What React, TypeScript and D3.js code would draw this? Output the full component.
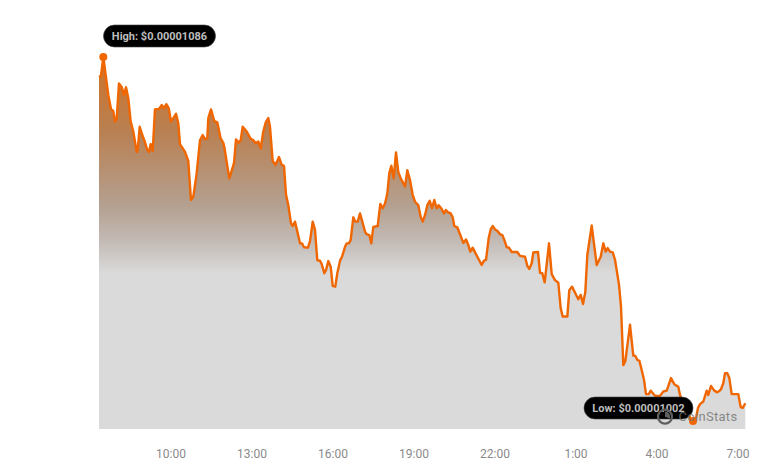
import React from "react";
import * as d3 from "d3";

const minutes = [0,4.4,9.6,14.9,20.7,26.7,31.8,35.6,39.3,44.4,50.4,55.6,60,65.1,70.4,76.2,83.8,86,90.4,96.2,100.7,107.3,111.1,114.9,119.3,124.4,133.3,139.3,144.4,149.6,154.9,160,165.1,171.1,176.2,180,191.1,198.4,204.4,209.6,217.1,224.4,230.4,236.2,240.7,242.9,248.9,256.2,262.9,270.4,276.2,278.4,289.6,300,304.4,310.4,314.9,319.3,328.2,337.1,342.9,348.2,354,359.3,365.1,370.4,376.2,380,386,392.2,400,406,411.1,415.6,420.7,426.7,430.4,435.6,440.7,446.7,451.1,455.6,464.4,468.9,474.9,480,485.1,491.1,494.9,500.7,504.4,509.6,514.9,519.3,525.1,529.6,535.6,540,546.7,550.4,555.6,559.3,565.1,569.6,574.9,580,585.1,591.1,594.9,600.7,605.1,609.6,619.3,625.1,630.4,635.6,640.7,645.1,649.6,654.9,660,665.1,670.4,680,685.1,691.1,697.1,702.2,709.6,714.9,719.3,724.4,729.6,734.9,740,745.1,750.4,754.9,761.6,766.7,771.1,774.9,781.6,786,789.6,796.2,802.2,809.6,815.6,820.7,825.1,830.4,836.2,850.4,855.6,860,866,870.4,874.9,880,885.1,891.1,896.2,900.7,906,911.1,917.1,929.6,935.6,946.7,951.8,956.2,961.6,965.1,975.6,980,985.1,990.4,1000,1006,1013.3,1020.7,1026,1030.4,1040.7,1045.1,1051.1,1065.1,1070.4,1075.6,1080.7,1085.1,1094.9,1106,1114.9,1120.7,1126,1130.4,1135.6,1141.6,1146.7,1155.6,1160,1165.1,1169.6,1180,1187.3,1191.8,1196.2,1200.7,1203.8,1211.1,1215.6,1221.6,1226,1235.6,1246.7,1254,1261.6,1271.1,1278.4,1287.3,1291.1,1300,1311.1,1315.6,1320,1325.6,1331.1,1335.6,1342.9,1350.4,1354,1360,1367.3,1374,1381.6,1387.3,1391.1,1396.2,1400.7,1406,1420.7,1426,1430.4,1436.2];

const prices = [1081.4,1081.7,1086,1081.8,1077.2,1074,1073.5,1071.1,1071.7,1079.9,1079.1,1077.2,1079,1076.5,1071.1,1068.8,1064.1,1064.5,1069.9,1068,1066.8,1064.5,1064.1,1065.9,1064.3,1073.9,1074,1074.9,1074.2,1075.1,1074.2,1071.1,1071.9,1072.9,1070.7,1065.9,1064.1,1062,1053,1053.8,1059.2,1066.8,1068,1067,1067.3,1071.9,1073.9,1071.2,1070.9,1067.2,1066.2,1065.3,1058,1061.5,1067,1066.2,1066.8,1069.9,1068.8,1067.1,1066.8,1066.1,1066.5,1064.9,1068.8,1070.9,1071.9,1069.9,1062,1061.1,1062.9,1061.1,1060.9,1054.2,1051.8,1047.6,1047,1048,1045.7,1043,1043,1042.1,1042,1043.5,1048,1046.1,1039.1,1039,1038.2,1036.1,1036.8,1038.9,1037.6,1033.2,1033,1036.1,1039,1039.9,1042.2,1043,1043,1043.8,1049,1048,1048,1049.9,1048,1045.7,1045.1,1044.9,1043,1046.8,1047,1052.1,1051.1,1052.2,1054.5,1059.2,1060.9,1058,1064,1059.5,1058,1056.1,1059.9,1057.6,1054.2,1052.6,1051.8,1049.1,1048,1049.5,1051.8,1052.8,1051.1,1053,1051.1,1051.8,1050.9,1049.9,1050.7,1050.2,1049.9,1049,1047,1046.7,1045.1,1043.1,1043.9,1042.6,1041.1,1042,1040.8,1038,1039,1039.2,1044.2,1046.2,1047,1046.2,1045.9,1045.1,1044.9,1043.8,1042.1,1042,1041,1041,1040.1,1039.9,1037.8,1037.1,1038.4,1040.9,1041,1036.2,1036.1,1034,1043,1035.9,1034.5,1033.9,1028,1026.1,1026.1,1032.2,1033,1030.1,1031.1,1029,1031.8,1040.3,1047.1,1038,1039.9,1043,1041.1,1041.9,1041.1,1040.9,1039.2,1033.4,1028.4,1014.9,1015.8,1024.2,1017.1,1017,1016.1,1015.9,1014.7,1011.5,1008.2,1008.2,1009,1007.8,1007.8,1008.8,1009,1011.9,1010.5,1009.9,1008,1005.7,1003.4,1002.2,1002,1002.2,1005,1005.9,1006.5,1009,1008,1010.1,1009,1008.6,1009.2,1010.7,1013,1013,1011.9,1008.2,1008.2,1005.2,1005,1006.1];

const tickMinutes = [160,340,520,700,880,1060,1240,1420];
const tickLabels = ["10:00","13:00","16:00","19:00","22:00","1:00","4:00","7:00"];
const highLabel = "High: $0.00001086";
const lowLabel = "Low: $0.00001002";
const highPoint = { minute: 9.6, price: 1086 };
const lowPoint = { minute: 1320, price: 1002 };

const FONT = "Roboto, sans-serif";
const ORANGE = "#f06600";

function Pill({ x, y, w, text }: { x: number; y: number; w: number; text: string }) {
  return (
    <g>
      <rect x={x} y={y} width={w} height={22} rx={11} fill="#000" stroke="#444" strokeWidth={0.6} />
      <text x={x + w / 2} y={y + 15} textAnchor="middle" fontFamily={FONT} fontSize={11} fontWeight={700} fill="#bdbdbd">
        {text}
      </text>
    </g>
  );
}

export default function App() {
  const x = d3.scaleLinear().domain([0, 1436.2]).range([99, 745.3]);
  const y = d3.scaleLinear().domain([1000.15, 1086]).range([429, 57]);
  const pts = minutes.map((m, i) => [m, prices[i]] as [number, number]);
  const line = d3.line<[number, number]>().x((d) => x(d[0])).y((d) => y(d[1]));
  const area = d3.area<[number, number]>().x((d) => x(d[0])).y0(y(1000.15)).y1((d) => y(d[1]));
  const wedge = d3.arc()({ innerRadius: 0, outerRadius: 5.2, startAngle: 0, endAngle: 1.9 }) ?? "";

  return (
    <svg width={760} height={472} style={{ position: "absolute", left: 0, top: 0, display: "block", background: "#fff" }}>
      <defs>
        <linearGradient id="fade" gradientUnits="userSpaceOnUse" x1={0} y1={57} x2={0} y2={429}>
          <stop offset="0" stopColor="#cf7226" />
          <stop offset="0.2" stopColor="#b98052" />
          <stop offset="0.4" stopColor="#b4a090" />
          <stop offset="0.5" stopColor="#c4bcb7" />
          <stop offset="0.58" stopColor="#dadada" />
          <stop offset="1" stopColor="#dadada" />
        </linearGradient>
      </defs>
      <path d={area(pts) ?? ""} fill="url(#fade)" />
      <path d={line(pts) ?? ""} fill="none" stroke={ORANGE} strokeWidth={2.4} strokeLinejoin="round" />
      <circle cx={x(highPoint.minute)} cy={y(highPoint.price)} r={4} fill={ORANGE} />
      <circle cx={x(lowPoint.minute)} cy={y(lowPoint.price)} r={4} fill={ORANGE} />
      <Pill x={103.5} y={25} w={112} text={highLabel} />
      <Pill x={584} y={397} w={109} text={lowLabel} />
      <g>
        <circle cx={665} cy={416.7} r={7} fill="none" stroke="#606060" strokeWidth={2.2} />
        <path d={wedge} transform="translate(665,416.7)" fill="#606060" />
        <text x={678.5} y={421} fontFamily={FONT} fontSize={13} letterSpacing={0.3} fill="#777" fillOpacity={0.85}>CoinStats</text>
      </g>
      {tickMinutes.map((t, i) => (
        <text key={t} x={x(t)} y={458} textAnchor="middle" fontFamily={FONT} fontSize={12} fill="#8a8a8a">
          {tickLabels[i]}
        </text>
      ))}
    </svg>
  );
}
